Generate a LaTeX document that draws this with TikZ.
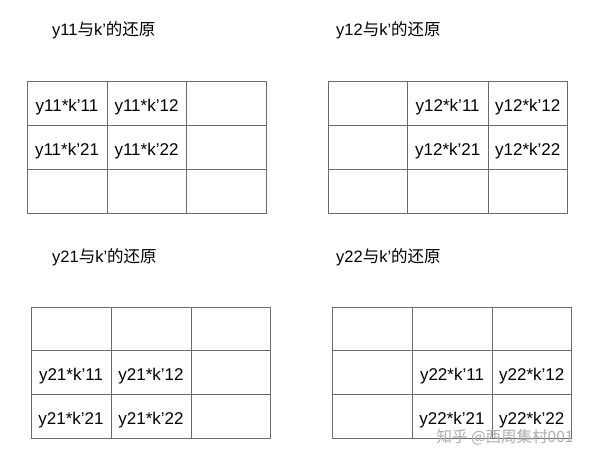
\documentclass[tikz,border=0pt]{standalone}
\usepackage{fontspec}
\setmainfont{Liberation Sans}
\newfontfamily\cjk{Noto Sans CJK SC}
\begin{document}
\begin{tikzpicture}[x=1pt,y=-1pt,
  gridline/.style={draw=black!58, line width=0.8pt},
  cell/.style={font=\fontsize{17}{20}\selectfont, inner sep=0pt, anchor=base},
  ttl/.style={font=\fontsize{16.5}{20}\selectfont, inner sep=0pt, anchor=base west},
  wm/.style={font=\cjk\fontsize{15.5}{18}\selectfont, text=black!32, inner sep=0pt, anchor=center}]
\useasboundingbox[fill=white] (0,0) rectangle (600,461);
% titles
\node[ttl] (ttl1) at (52,35) {y11{\cjk 与}k’{\cjk 的还原}};
\node[ttl] (ttl2) at (336,35) {y12{\cjk 与}k’{\cjk 的还原}};
\node[ttl] (ttl3) at (52,262) {y21{\cjk 与}k’{\cjk 的还原}};
\node[ttl] (ttl4) at (336,262) {y22{\cjk 与}k’{\cjk 的还原}};
% table 1
\draw[gridline] (27,81) rectangle (266,213);
\draw[gridline] (107,81) -- (107,213) (186,81) -- (186,213)
  (27,125.7) -- (266,125.7) (27,169.3) -- (266,169.3);
\node[cell] (a11) at (67,111) {y11*k’11};
\node[cell] (a12) at (146.5,111) {y11*k’12};
\node[cell] (a21) at (67,155) {y11*k’21};
\node[cell] (a22) at (146.5,155) {y11*k’22};
% table 2
\draw[gridline] (328,81) rectangle (567.5,213);
\draw[gridline] (407.5,81) -- (407.5,213) (488,81) -- (488,213)
  (328,125.7) -- (567.5,125.7) (328,169.3) -- (567.5,169.3);
\node[cell] (b11) at (447.7,111) {y12*k’11};
\node[cell] (b12) at (527.7,111) {y12*k’12};
\node[cell] (b21) at (447.7,155) {y12*k’21};
\node[cell] (b22) at (527.7,155) {y12*k’22};
% table 3
\draw[gridline] (31,307) rectangle (270,438.7);
\draw[gridline] (111,307) -- (111,438.7) (191,307) -- (191,438.7)
  (31,350.7) -- (270,350.7) (31,394.7) -- (270,394.7);
\node[cell] (c11) at (71,380.5) {y21*k’11};
\node[cell] (c12) at (151,380.5) {y21*k’12};
\node[cell] (c21) at (71,424.5) {y21*k’21};
\node[cell] (c22) at (151,424.5) {y21*k’22};
% table 4
\draw[gridline] (332.5,307) rectangle (571.7,438.7);
\draw[gridline] (412,307) -- (412,438.7) (492,307) -- (492,438.7)
  (332.5,350.7) -- (571.7,350.7) (332.5,394.7) -- (571.7,394.7);
\node[cell] (d11) at (452,380.5) {y22*k’11};
\node[cell] (d12) at (531.8,380.5) {y22*k’12};
\node[cell] (d21) at (452,424.5) {y22*k’21};
\node[cell] (d22) at (531.8,424.5) {y22*k’22};
% watermark
\node[wm] (wmark) at (505,437.5) {知乎 @西周集村001};
\end{tikzpicture}
\end{document}
